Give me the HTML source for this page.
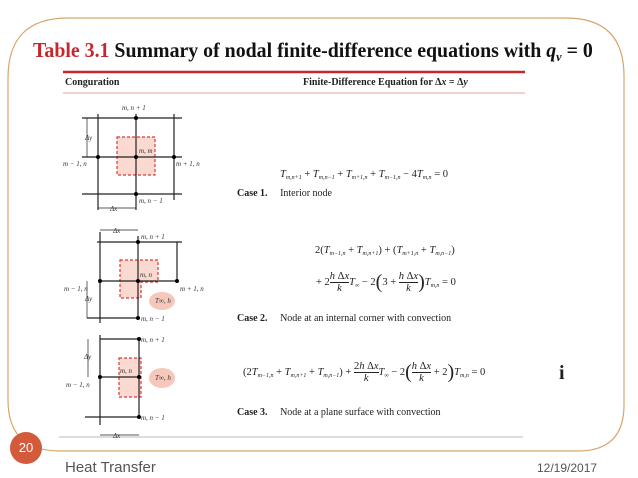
<!DOCTYPE html>
<html><head><meta charset="utf-8"><style>
body{margin:0;width:638px;height:478px;background:#fff;position:relative;overflow:hidden;font-family:"Liberation Serif",serif;color:#222}
.a{position:absolute;white-space:nowrap}
.eq{font-size:10.5px;font-style:normal}
.eq i{font-style:italic}
sub{font-size:6px;font-style:italic;vertical-align:-2px}
.case{font-size:10px}
.case b{margin-right:10px}
.fr{display:inline-block;text-align:center;vertical-align:middle;line-height:11px}
.fr span{display:block}
.fr .n{border-bottom:1px solid #222}
</style></head><body>
<svg class="a" style="left:0;top:0" width="638" height="478">
<path d="M68,18 L566,18 Q624,18 624,76 L624,405 Q624,451 578,451 L60,451 Q8,451 8,400 L8,78 Q8,18 68,18 Z" fill="none" stroke="#d7a66e" stroke-width="1.2"/>
<line x1="63" y1="72" x2="525" y2="72" stroke="#c4282d" stroke-width="2.5"/>
<line x1="63" y1="93" x2="525" y2="93" stroke="#e8a0a0" stroke-width="1"/>
<line x1="59" y1="437" x2="523" y2="437" stroke="#bbb" stroke-width="1"/>
</svg>
<svg class="a" style="left:0;top:0" width="638" height="478">
<defs><style>.l{stroke:#222;stroke-width:1.2}.d{fill:#f9d9d0;stroke:#d93a3a;stroke-width:1.2;stroke-dasharray:3 2}.t{font:italic 7px "Liberation Serif",serif;fill:#333}</style></defs>
<g>
<rect class="d" x="117" y="137" width="38" height="38"/>
<line class="l" x1="98" y1="114" x2="98" y2="210"/><line class="l" x1="136" y1="114" x2="136" y2="210"/><line class="l" x1="174" y1="114" x2="174" y2="200"/>
<line class="l" x1="82" y1="118" x2="182" y2="118"/><line class="l" x1="82" y1="157" x2="182" y2="157"/><line class="l" x1="82" y1="194" x2="182" y2="194"/>
<circle cx="136" cy="118" r="2"/><circle cx="98" cy="157" r="2"/><circle cx="136" cy="157" r="2"/><circle cx="174" cy="157" r="2"/><circle cx="136" cy="194" r="2"/>
<text class="t" x="122" y="110">m, n + 1</text><text class="t" x="63" y="166">m − 1, n</text><text class="t" x="176" y="166">m + 1, n</text><text class="t" x="139" y="153">m, m</text><text class="t" x="139" y="203">m, n − 1</text>
<text class="t" x="85" y="140">Δy</text><text class="t" x="110" y="211">Δx</text>
<line x1="87" y1="118" x2="87" y2="157" stroke="#222" stroke-width=".7"/><line x1="98" y1="208" x2="136" y2="208" stroke="#222" stroke-width=".7"/>
</g>
<g>
<path class="d" d="M120,260 H158 V282 H141 V298 H120 Z"/>
<line class="l" x1="100" y1="232" x2="100" y2="323"/><line class="l" x1="138" y1="236" x2="138" y2="318"/><line class="l" x1="177" y1="242" x2="177" y2="281"/>
<line class="l" x1="97" y1="242" x2="182" y2="242"/><line class="l" x1="100" y1="281" x2="177" y2="281"/><line class="l" x1="87" y1="318" x2="138" y2="318"/>
<circle cx="138" cy="242" r="2"/><circle cx="100" cy="281" r="2"/><circle cx="138" cy="281" r="2"/><circle cx="177" cy="281" r="2"/><circle cx="138" cy="318" r="2"/>
<ellipse cx="162" cy="301" rx="13" ry="9" fill="#f6c8bb"/>
<text class="t" x="155" y="303">T∞, h</text>
<text class="t" x="141" y="239">m, n + 1</text><text class="t" x="64" y="291">m − 1, n</text><text class="t" x="180" y="291">m + 1, n</text><text class="t" x="140" y="277">m, n</text><text class="t" x="141" y="321">m, n − 1</text>
<text class="t" x="113" y="233">Δx</text><text class="t" x="85" y="301">Δy</text>
<line x1="100" y1="230" x2="138" y2="230" stroke="#222" stroke-width=".7"/><line x1="87" y1="281" x2="87" y2="318" stroke="#222" stroke-width=".7"/>
</g>
<g>
<rect class="d" x="119" y="358" width="22" height="39"/>
<line class="l" x1="100" y1="335" x2="100" y2="425"/><line class="l" x1="139" y1="339" x2="139" y2="417"/>
<line class="l" x1="100" y1="339" x2="139" y2="339"/><line class="l" x1="100" y1="377" x2="139" y2="377"/><line class="l" x1="85" y1="417" x2="139" y2="417"/>
<circle cx="139" cy="339" r="2"/><circle cx="100" cy="377" r="2"/><circle cx="139" cy="377" r="2"/><circle cx="139" cy="417" r="2"/>
<ellipse cx="162" cy="378" rx="13" ry="10" fill="#f6c8bb"/>
<text class="t" x="155" y="380">T∞, h</text>
<text class="t" x="141" y="342">m, n + 1</text><text class="t" x="66" y="387">m − 1, n</text><text class="t" x="120" y="373">m, n</text><text class="t" x="141" y="420">m, n − 1</text>
<text class="t" x="84" y="359">Δy</text><text class="t" x="113" y="438">Δx</text>
<line x1="88" y1="339" x2="88" y2="377" stroke="#222" stroke-width=".7"/><line x1="100" y1="435" x2="139" y2="435" stroke="#222" stroke-width=".7"/>
</g>
</svg>

<div class="a" style="left:33px;top:38px;font-size:21px;font-weight:bold;color:#111;transform:scaleX(0.945);transform-origin:left top"><span style="color:#c4282d">Table 3.1</span> Summary of nodal finite-difference equations with <i>q<sub style="font-size:13px;vertical-align:-4px">v</sub></i> = 0</div>
<div class="a" style="left:65px;top:77px;font-size:10px;font-weight:bold">Conguration</div>
<div class="a" style="left:303px;top:77px;font-size:10px;font-weight:bold">Finite-Difference Equation for Δ<i>x</i> = Δ<i>y</i></div>

<div class="a eq" style="left:280px;top:169px"><i>T</i><sub>m,n+1</sub> + <i>T</i><sub>m,n−1</sub> + <i>T</i><sub>m+1,n</sub> + <i>T</i><sub>m−1,n</sub> − 4<i>T</i><sub>m,n</sub> = 0</div>
<div class="a case" style="left:237px;top:188px"><b>Case 1.</b> Interior node</div>

<div class="a eq" style="left:315px;top:245px">2(<i>T</i><sub>m−1,n</sub> + <i>T</i><sub>m,n+1</sub>) + (<i>T</i><sub>m+1,n</sub> + <i>T</i><sub>m,n−1</sub>)</div>
<div class="a eq" style="left:316px;top:271px">+ 2<span class="fr"><span class="n"><i>h</i> Δ<i>x</i></span><span><i>k</i></span></span><i>T</i><sub>∞</sub> − 2<span style="font-size:20px;vertical-align:-3px">(</span>3 + <span class="fr"><span class="n"><i>h</i> Δ<i>x</i></span><span><i>k</i></span></span><span style="font-size:20px;vertical-align:-3px">)</span><i>T</i><sub>m,n</sub> = 0</div>
<div class="a case" style="left:237px;top:313px"><b>Case 2.</b> Node at an internal corner with convection</div>

<div class="a eq" style="left:243px;top:361px">(2<i>T</i><sub>m−1,n</sub> + <i>T</i><sub>m,n+1</sub> + <i>T</i><sub>m,n−1</sub>) + <span class="fr"><span class="n">2<i>h</i> Δ<i>x</i></span><span><i>k</i></span></span><i>T</i><sub>∞</sub> − 2<span style="font-size:20px;vertical-align:-3px">(</span><span class="fr"><span class="n"><i>h</i> Δ<i>x</i></span><span><i>k</i></span></span> + 2<span style="font-size:20px;vertical-align:-3px">)</span><i>T</i><sub>m,n</sub> = 0</div>
<div class="a" style="left:559px;top:362px;font-size:20px;font-weight:bold">i</div>
<div class="a case" style="left:237px;top:407px"><b>Case 3.</b> Node at a plane surface with convection</div>

<div class="a" style="left:10px;top:432px;width:32px;height:32px;border-radius:50%;background:#d45a3c;color:#fff;font:13px 'Liberation Sans',sans-serif;text-align:center;line-height:32px">20</div>
<div class="a" style="left:65px;top:459px;font:15px 'Liberation Sans',sans-serif;color:#555">Heat Transfer</div>
<div class="a" style="left:537px;top:461px;font:12px 'Liberation Sans',sans-serif;color:#555">12/19/2017</div>
</body></html>
